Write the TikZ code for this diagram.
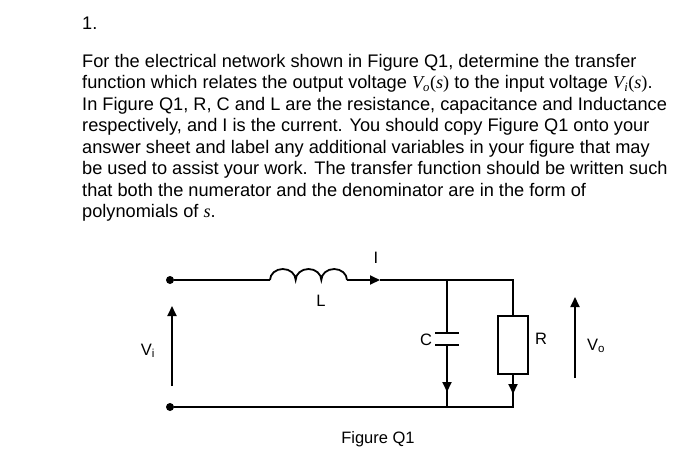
\documentclass[tikz,border=0pt]{standalone}
\usepackage{fontspec}
\setmainfont{Liberation Sans}
\newfontfamily\serifit{Liberation Serif}[ItalicFont={* Italic}]
\usetikzlibrary{arrows.meta,decorations.markings}
\newcommand{\mv}[2]{{\serifit\itshape #1}\textsubscript{\serifit\itshape #2}{\serifit(\itshape s\upshape)}}
\begin{document}
\begin{tikzpicture}[x=1pt,y=-1pt,
  txt/.style={anchor=base west,inner sep=0,font=\fontsize{18.2}{21}\selectfont},
  lab/.style={inner sep=0,font=\fontsize{16.5}{19}\selectfont},
  w/.style={line width=1.8pt},
  dot/.style={circle,fill,inner sep=0,minimum size=8pt},
  tip/.style={-{Triangle[length=10pt,width=9pt]}}]
\useasboundingbox (0,0) rectangle (700,472);
\node[txt] (n1) at (82,29) {1.};
\node[txt] (t1) at (82,67) {For the electrical network shown in Figure Q1, determine the transfer};
\node[txt] (t2) at (82,88.5) {function which relates the output voltage \mv{V}{o} to the input voltage \mv{V}{i}.};
\node[txt] (t3) at (82,110) {In Figure Q1, R, C and L are the resistance, capacitance and Inductance};
\node[txt] (t4) at (82,131.5) {respectively, and I is the current. You should copy Figure Q1 onto your};
\node[txt] (t5) at (82,153) {answer sheet and label any additional variables in your figure that may};
\node[txt] (t6) at (82,174.5) {be used to assist your work. The transfer function should be written such};
\node[txt] (t7) at (82,196) {that both the numerator and the denominator are in the form of};
\node[txt] (t8) at (82,217.5) {polynomials of {\serifit\itshape s}.};
% circuit
\node[dot] (a) at (170,280) {};
\node[dot] (b) at (170,407) {};
\coordinate (l1) at (270,280);
\coordinate (l2) at (347,280);
\coordinate (ia) at (380,280);
\coordinate (tc) at (447,280);
\coordinate (tr) at (513,280);
\coordinate (bc) at (447,407);
\coordinate (br) at (513,407);
\draw[w] (a) -- (l1);
\draw[w] (l1) arc (180:360:12.83 and 11) arc (180:360:12.83 and 11) arc (180:360:12.83 and 11);
\draw[w,tip] (l2) -- (ia);
\draw[w] (ia) -- (tr) -- (513,316);
\draw[w] (b) -- (br) -- (513,374);
\node[draw,line width=1.8pt,minimum width=30pt,minimum height=58pt,inner sep=0] (R) at (513,345) {};
\draw[w,tip] (R.south) -- (513,394);
\draw[w] (tc) -- (447,333);
\draw[w] (435,333) -- (459,333);
\draw[w] (435,345) -- (459,345);
\draw[w,tip] (447,345) -- (447,392);
\draw[w] (447,390) -- (bc);
\draw[w,tip] (172,386) -- (172,306);
\draw[w,tip] (575,378) -- (575,297);
\node[lab] (lI) at (376,258) {I};
\node[lab] (lL) at (321,301) {L};
\node[lab] (lC) at (426,340) {C};
\node[lab] (lR) at (541,339) {R};
\node[lab] (lVo) at (596,346) {V\textsubscript{o}};
\node[lab] (lVi) at (148,351) {V\textsubscript{i}};
\node[lab] (fq) at (378,439) {Figure Q1};
\end{tikzpicture}
\end{document}
